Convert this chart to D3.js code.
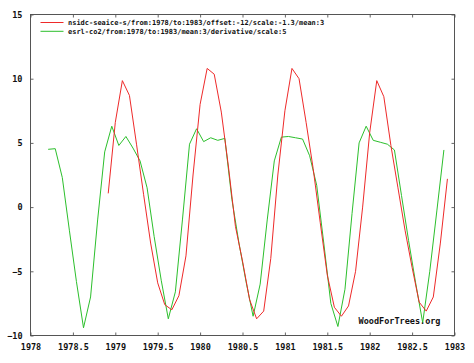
<!DOCTYPE html>
<html>
<head>
<meta charset="utf-8">
<script src="https://cdn.jsdelivr.net/npm/d3@7"></script>
<style>
  body{margin:0;background:#fff;}
  text{font-family:"DejaVu Sans Mono",monospace;font-weight:bold;fill:#111;}
</style>
</head>
<body>
<svg id="chart" width="474" height="363"></svg>
<script>
// series names (legend)
let seriesNames=["nsidc-seaice-s/from:1978/to:1983/offset:-12/scale:-1.3/mean:3",
                 "esrl-co2/from:1978/to:1983/mean:3/derivative/scale:5"];

// red series: monthly, first point nov 1978
let iceStart=1978+11/12;
let iceValues=[1.07,6.6,9.85,8.7,4.9,1.0,-2.8,-5.9,-7.6,-8.0,
  -6.9,-3.8,2.5,8.0,10.8,10.35,7.4,3.2,-1.5,-4.2,
  -7.2,-8.7,-8.1,-4.0,2.5,7.5,10.8,10.0,6.6,3.0,
  -1.2,-5.3,-7.8,-8.5,-7.7,-5.0,0.0,5.8,9.85,8.6,
  4.8,1.5,-1.8,-4.7,-7.4,-8.1,-7.0,-2.8,2.2];

// green series: monthly, first point mid march 1978
let co2Start=1978+2.5/12;
let co2Values=[4.5,4.55,2.3,-1.8,-5.8,-9.4,-7.0,-1.0,4.3,6.3,
  4.8,5.5,4.6,3.6,1.5,-2.3,-5.7,-8.7,-6.6,-1.0,
  4.9,6.1,5.1,5.4,5.2,5.35,0.6,-2.8,-5.8,-8.5,
  -6.0,-1.0,3.6,5.45,5.5,5.4,5.3,4.0,1.7,-2.8,
  -7.5,-9.3,-6.4,-0.5,5.0,6.3,5.2,5.05,4.9,4.45,
  0.9,-2.6,-5.9,-9.0,-5.0,-0.3,4.45];

let xTicks=[1978,1978.5,1979,1979.5,1980,1980.5,1981,1981.5,1982,1982.5,1983];
let yTicks=[-10,-5,0,5,10,15];

let colors=["#ee2a2a","#2cbf2c"];

let svg=d3.select("#chart");
let marginLeft=30.5, marginTop=14.5, w=424, h=321;

let x=d3.scaleLinear().domain([1978,1983]).range([0,w]);
let y=d3.scaleLinear().domain([-10,15]).range([h,0]);

let g=svg.append("g").attr("transform",`translate(${marginLeft},${marginTop})`);

/*########## axes ##########*/
function fmtYear(d){return d%1===0?d3.format("d")(d):d3.format(".1f")(d);}

let axB=g.append("g").attr("transform",`translate(0,${h})`)
  .call(d3.axisBottom(x).tickValues(xTicks).tickSize(-3).tickPadding(8).tickFormat(fmtYear));
let axT=g.append("g")
  .call(d3.axisTop(x).tickValues(xTicks).tickSize(-3).tickFormat(""));
let axL=g.append("g")
  .call(d3.axisLeft(y).tickValues(yTicks).tickSize(-3).tickPadding(8).tickFormat(d3.format("d")));
let axR=g.append("g").attr("transform",`translate(${w},0)`)
  .call(d3.axisRight(y).tickValues(yTicks).tickSize(-3).tickFormat(""));

for(let a of [axB,axT,axL,axR]){
  a.select(".domain").remove();
  a.selectAll("line").attr("stroke","#666");
  a.selectAll("text").attr("font-size","8.5px").attr("font-family","DejaVu Sans Mono").attr("font-weight","bold").attr("fill","#111");
}

// frame
g.append("rect").attr("x",0).attr("y",0).attr("width",w).attr("height",h)
  .attr("fill","none").attr("stroke","#555").attr("stroke-width",1);

/*########## lines ##########*/
let line=d3.line().x(d=>x(d.t)).y(d=>y(d.v));

function toPoints(start,values){
  return values.map((v,i)=>({t:start+i/12,v:v}));
}

g.append("path").datum(toPoints(co2Start,co2Values))
  .attr("fill","none").attr("stroke",colors[1]).attr("stroke-width",1).attr("d",line);
g.append("path").datum(toPoints(iceStart,iceValues))
  .attr("fill","none").attr("stroke",colors[0]).attr("stroke-width",1).attr("d",line);

/*########## legend ##########*/
seriesNames.forEach((name,i)=>{
  let ly=8+i*8.8;
  g.append("line").attr("x1",10).attr("x2",33).attr("y1",ly).attr("y2",ly)
    .attr("stroke",colors[i]).attr("stroke-width",1);
  g.append("text").attr("x",37.5).attr("y",ly+2.6).attr("font-size","7px")
    .attr("textLength",name.length*4.2).attr("lengthAdjust","spacingAndGlyphs").text(name);
});

// watermark
g.append("text").attr("x",410).attr("y",h-11.5).attr("text-anchor","end")
  .attr("font-size","8.5px").text("WoodForTrees.org");
</script>
</body>
</html>
